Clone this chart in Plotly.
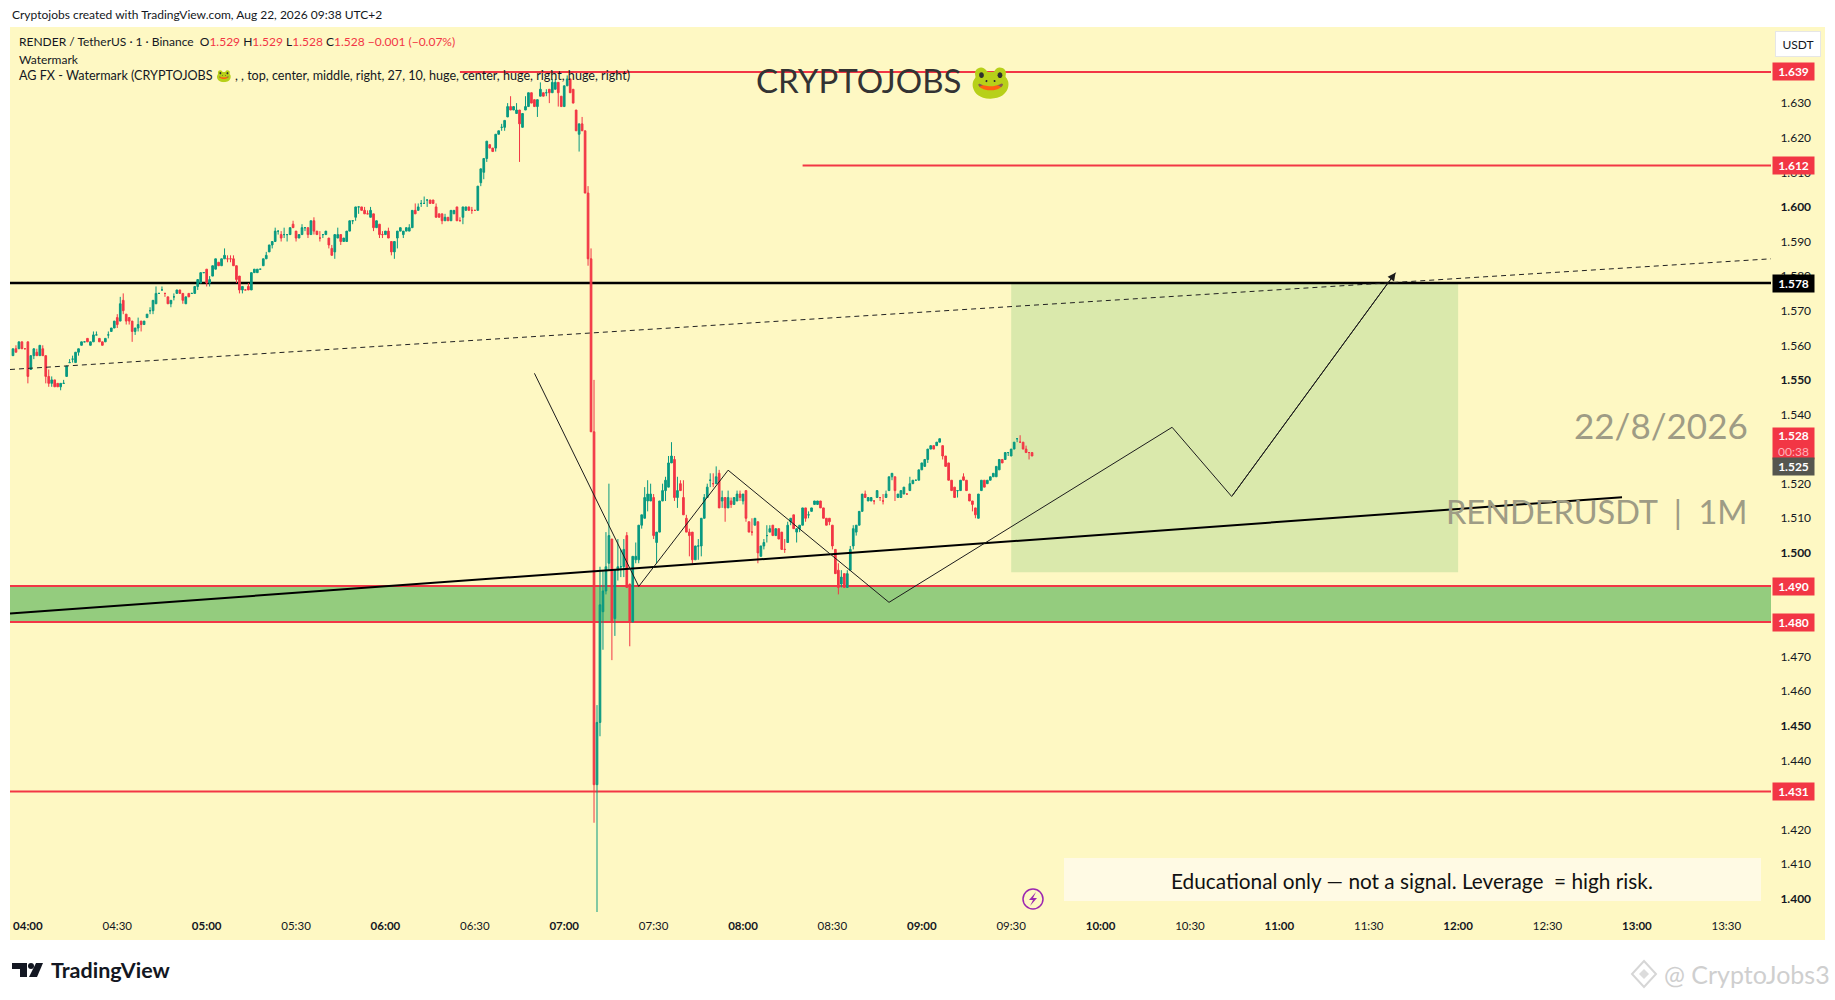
import pandas as pd
import plotly.graph_objects as go

# 1 minute candles, in 1/1000 USDT
first_bar = "2026-08-22 03:55"
opens = [
    1557,1559,1559,1561,1559,1561,1553,1557,1558,1557, 1559,1557,1551,1549,1550,1549,1548,1549,1551,1555,
    1556,1555,1558,1560,1561,1562,1560,1561,1563,1562, 1561,1561,1563,1564,1565,1568,1567,1573,1569,1568,
    1567,1564,1565,1567,1566,1568,1570,1570,1572,1575, 1576,1575,1574,1572,1574,1575,1576,1575,1572,1575,
    1575,1575,1577,1578,1581,1582,1578,1580,1582,1584, 1583,1585,1585,1585,1585,1583,1580,1576,1576,1577,
    1576,1581,1581,1582,1583,1585,1587,1589,1590,1593, 1592,1592,1592,1592,1595,1593,1591,1592,1594,1594,
    1592,1596,1593,1591,1592,1592,1591,1588,1587,1591, 1592,1590,1590,1593,1596,1597,1600,1600,1599,1598,
    1597,1598,1594,1595,1592,1592,1593,1590,1587,1591, 1593,1592,1593,1593,1594,1599,1599,1601,1601,1602,
    1602,1602,1600,1598,1598,1596,1597,1596,1598,1600, 1596,1597,1599,1600,1599,1599,1599,1607,1610,1614,
    1618,1617,1617,1621,1623,1623,1626,1629,1628,1627, 1628,1623,1628,1629,1633,1631,1629,1632,1633,1633,
    1634,1633,1634,1636,1632,1629,1635,1637,1634,1628, 1621,1624,1622,1604,1585,1535,1433,1451,1483,1489,
    1497,1504,1481,1495,1496,1496,1505,1491,1480,1498, 1498,1508,1510,1515,1515,1516,1503,1506,1515,1518,
    1519,1526,1527,1516,1520,1516,1510,1506,1506,1498, 1502,1502,1510,1516,1521,1520,1520,1523,1515,1516,
    1513,1515,1514,1515,1517,1515,1518,1509,1506,1508, 1509,1499,1502,1505,1506,1508,1505,1507,1506,1501,
    1503,1509,1511,1506,1507,1508,1513,1511,1512,1514, 1514,1515,1513,1510,1510,1508,1501,1495,1491,1494,
    1490,1495,1502,1506,1508,1512,1517,1515,1515,1515, 1516,1516,1515,1516,1518,1522,1522,1516,1516,1517,
    1517,1518,1520,1521,1521,1524,1525,1527,1530,1531, 1531,1532,1531,1528,1526,1521,1519,1518,1518,1522,
    1521,1517,1515,1513,1510,1518,1521,1520,1521,1522, 1522,1524,1527,1527,1529,1528,1530,1533,1532,1532,
    1530,1529,1529]
highs = [
    1559,1560,1561,1561,1559,1561,1557,1559,1559,1560, 1560,1557,1553,1551,1550,1549,1549,1550,1554,1556,
    1557,1558,1559,1561,1561,1562,1561,1564,1564,1562, 1561,1562,1564,1565,1567,1569,1574,1575,1569,1568,
    1567,1565,1568,1567,1567,1569,1571,1573,1577,1575, 1577,1575,1574,1573,1575,1576,1576,1575,1574,1575,
    1575,1577,1579,1581,1581,1582,1580,1583,1585,1584, 1585,1588,1586,1586,1586,1583,1580,1577,1576,1578,
    1581,1582,1582,1582,1585,1587,1589,1590,1594,1593, 1593,1594,1592,1594,1596,1593,1592,1595,1594,1594,
    1596,1597,1593,1593,1592,1593,1591,1589,1592,1594, 1592,1591,1593,1596,1596,1600,1600,1600,1600,1599,
    1600,1598,1596,1595,1593,1593,1594,1590,1590,1593, 1594,1593,1594,1595,1599,1601,1601,1602,1603,1602,
    1602,1602,1601,1598,1598,1598,1597,1599,1599,1600, 1597,1600,1600,1600,1600,1599,1606,1611,1614,1619,
    1618,1617,1621,1622,1624,1625,1630,1632,1629,1630, 1628,1627,1632,1633,1633,1631,1631,1636,1633,1634,
    1634,1637,1637,1636,1632,1635,1638,1637,1634,1628, 1624,1626,1622,1606,1588,1550,1456,1496,1495,1506,
    1520,1504,1495,1504,1501,1504,1506,1491,1499,1503, 1508,1511,1519,1521,1520,1517,1506,1515,1520,1522,
    1528,1532,1528,1522,1521,1521,1511,1507,1506,1502, 1504,1510,1517,1520,1523,1523,1525,1524,1518,1516,
    1518,1516,1516,1518,1518,1517,1518,1509,1510,1510, 1509,1502,1504,1508,1508,1508,1507,1507,1506,1504,
    1509,1510,1511,1507,1508,1513,1513,1512,1513,1515, 1515,1515,1513,1510,1510,1508,1501,1497,1495,1494,
    1495,1502,1508,1508,1512,1517,1518,1516,1516,1515, 1518,1516,1517,1518,1522,1523,1522,1517,1518,1519,
    1517,1522,1521,1521,1524,1526,1527,1530,1531,1531, 1532,1533,1531,1528,1526,1521,1519,1518,1521,1523,
    1521,1517,1515,1513,1517,1521,1521,1521,1522,1523, 1525,1527,1527,1529,1529,1530,1532,1533,1534,1532,
    1531,1529,1529]
lows = [
    1557,1558,1559,1559,1559,1549,1553,1556,1557,1557, 1557,1549,1548,1548,1548,1548,1547,1549,1551,1555,
    1555,1555,1557,1560,1561,1561,1560,1561,1563,1561, 1560,1561,1562,1564,1565,1565,1567,1569,1566,1566,
    1561,1563,1564,1564,1566,1568,1569,1569,1572,1575, 1576,1574,1572,1571,1573,1575,1575,1572,1572,1574,
    1575,1575,1576,1578,1581,1577,1577,1580,1582,1583, 1583,1585,1584,1584,1583,1578,1575,1575,1576,1576,
    1576,1581,1581,1582,1583,1585,1587,1588,1590,1592, 1590,1591,1590,1592,1594,1590,1591,1592,1593,1591,
    1592,1592,1592,1590,1591,1592,1588,1586,1585,1591, 1589,1590,1590,1593,1595,1596,1598,1599,1598,1598,
    1597,1593,1594,1591,1591,1592,1591,1586,1585,1588, 1593,1591,1593,1593,1594,1598,1599,1600,1601,1600,
    1601,1601,1597,1597,1595,1596,1596,1596,1598,1596, 1596,1595,1599,1599,1598,1599,1599,1606,1608,1613,
    1617,1616,1616,1621,1622,1622,1626,1628,1628,1627, 1613,1623,1628,1629,1630,1629,1626,1632,1632,1632,
    1630,1633,1634,1629,1629,1629,1635,1633,1630,1622, 1616,1622,1604,1583,1535,1422,1396,1447,1472,1488,
    1495,1469,1476,1492,1493,1493,1490,1473,1480,1497, 1497,1507,1510,1512,1515,1504,1497,1506,1515,1515,
    1519,1526,1515,1513,1518,1511,1506,1499,1497,1498, 1498,1499,1510,1516,1519,1519,1520,1513,1513,1509,
    1513,1513,1514,1515,1515,1514,1509,1506,1505,1508, 1497,1499,1501,1503,1506,1505,1505,1504,1501,1500,
    1503,1508,1507,1503,1506,1508,1509,1510,1512,1514, 1514,1513,1510,1508,1508,1501,1494,1488,1490,1490,
    1490,1495,1501,1505,1508,1512,1516,1515,1515,1514, 1516,1515,1514,1516,1518,1521,1515,1516,1516,1517,
    1517,1518,1520,1521,1521,1524,1525,1526,1530,1530, 1531,1532,1527,1525,1521,1518,1516,1516,1518,1521,
    1518,1515,1512,1510,1510,1518,1519,1520,1521,1522, 1522,1524,1526,1527,1528,1528,1530,1532,1532,1530,
    1529,1527,1528]
closes = [
    1559,1558,1561,1559,1559,1551,1557,1559,1557,1560, 1557,1551,1549,1550,1548,1548,1549,1549,1554,1555,
    1556,1558,1559,1561,1561,1561,1561,1563,1563,1561, 1560,1562,1563,1565,1567,1566,1572,1570,1567,1567,
    1564,1565,1566,1566,1567,1569,1570,1573,1575,1575, 1576,1575,1572,1573,1574,1576,1575,1573,1574,1574,
    1575,1577,1579,1581,1581,1578,1579,1583,1585,1583, 1585,1586,1585,1585,1583,1579,1576,1577,1576,1576,
    1581,1582,1582,1582,1585,1586,1589,1590,1593,1593, 1591,1592,1592,1594,1594,1591,1592,1594,1594,1592,
    1596,1593,1592,1591,1592,1593,1589,1586,1592,1592, 1590,1591,1593,1596,1596,1600,1600,1599,1598,1598,
    1599,1594,1596,1592,1592,1593,1591,1587,1590,1593, 1594,1593,1594,1594,1599,1598,1600,1601,1601,1602,
    1601,1601,1597,1597,1596,1597,1596,1599,1599,1596, 1596,1600,1600,1599,1599,1599,1606,1611,1614,1619,
    1617,1616,1621,1622,1623,1625,1629,1628,1629,1628, 1624,1627,1629,1633,1630,1629,1631,1634,1632,1633,
    1633,1636,1636,1633,1629,1635,1637,1633,1630,1622, 1624,1622,1604,1585,1535,1433,1451,1485,1489,1496,
    1505,1480,1495,1496,1496,1501,1490,1480,1499,1499, 1508,1511,1516,1517,1517,1505,1506,1515,1518,1521,
    1526,1528,1516,1518,1518,1511,1506,1505,1498,1502, 1502,1510,1516,1519,1521,1520,1522,1513,1516,1513,
    1516,1514,1516,1517,1516,1517,1510,1506,1506,1510, 1500,1502,1503,1505,1507,1505,1507,1504,1501,1501,
    1508,1510,1507,1507,1508,1513,1510,1511,1513,1515, 1515,1513,1510,1508,1509,1502,1494,1490,1493,1490,
    1494,1501,1507,1508,1512,1517,1516,1516,1516,1515, 1518,1516,1515,1517,1522,1523,1518,1517,1518,1519,
    1517,1520,1521,1521,1524,1526,1527,1530,1531,1530, 1532,1533,1528,1525,1521,1518,1516,1518,1521,1521,
    1518,1515,1514,1511,1517,1521,1519,1521,1522,1523, 1525,1527,1526,1529,1529,1530,1532,1533,1532,1530,
    1529,1529,1528]

# horizontal levels and drawings
level_price = [1.639, 1.612, 1.578, 1.4904, 1.480, 1.431]
level_label = ["1.639", "1.612", "1.578", "1.490", "1.480", "1.431"]
level_start = ["2026-08-22 06:25", "2026-08-22 08:20", "2026-08-22 03:54",
               "2026-08-22 03:54", "2026-08-22 03:54", "2026-08-22 03:54"]
level_color = ["#F23645", "#F23645", "#000000", "#F23645", "#F23645", "#F23645"]
level_width = [2, 2, 2.5, 2, 2, 2]

trend_t = ["2026-08-22 03:54", "2026-08-22 12:55"]
trend_p = [1.4825, 1.5161]
dash_t = ["2026-08-22 03:54", "2026-08-22 13:45"]
dash_p = [1.5530, 1.5850]
path_t = ["2026-08-22 06:50", "2026-08-22 07:25", "2026-08-22 07:55", "2026-08-22 08:49",
          "2026-08-22 10:24", "2026-08-22 10:44", "2026-08-22 11:39"]
path_p = [1.5519, 1.4903, 1.5239, 1.4857, 1.5363, 1.5163, 1.5810]
box_t = ["2026-08-22 09:30", "2026-08-22 12:00"]
box_p = [1.4944, 1.5780]

y_ticks = [1.40, 1.41, 1.42, 1.44, 1.45, 1.46, 1.47, 1.50, 1.51, 1.52,
           1.54, 1.55, 1.56, 1.57, 1.58, 1.59, 1.60, 1.61, 1.62, 1.63, 1.64]
y_labels = ["<b>1.400</b>", "1.410", "1.420", "1.440", "<b>1.450</b>", "1.460", "1.470",
            "<b>1.500</b>", "1.510", "1.520", "1.540", "<b>1.550</b>",
            "1.560", "1.570", "1.580", "1.590", "<b>1.600</b>", "1.610", "1.620", "1.630", "1.640"]
x_labels = ["<b>04:00</b>", "04:30", "<b>05:00</b>", "05:30", "<b>06:00</b>", "06:30", "<b>07:00</b>",
            "07:30", "<b>08:00</b>", "08:30", "<b>09:00</b>", "09:30", "<b>10:00</b>", "10:30",
            "<b>11:00</b>", "11:30", "<b>12:00</b>", "12:30", "<b>13:00</b>", "13:30"]
x_ticks = ["2026-08-22 " + s.replace("<b>", "").replace("</b>", "") for s in x_labels]

FONT = "Lato, Noto Sans, sans-serif"
RED = "#F23645"
GREEN = "#089981"
PANEL = "#FEF8C3"
W, H = 1835, 1000
L, R, T, B = 10, 1771, 27, 912


def px(x):
    return (x - L) / (R - L)


def py(y):
    return (B - y) / (B - T)


times = pd.date_range(first_bar, periods=len(opens), freq="min")

fig = go.Figure()
fig.add_trace(go.Candlestick(
    x=times,
    open=[v / 1000 for v in opens], high=[v / 1000 for v in highs],
    low=[v / 1000 for v in lows], close=[v / 1000 for v in closes],
    increasing=dict(line=dict(color=GREEN, width=1), fillcolor=GREEN),
    decreasing=dict(line=dict(color=RED, width=1), fillcolor=RED),
    whiskerwidth=0, showlegend=False, hoverinfo="skip"))

fig.add_trace(go.Scatter(x=dash_t, y=dash_p, mode="lines", showlegend=False,
                         line=dict(color="#222222", width=1, dash="5px,4px")))
fig.add_trace(go.Scatter(x=trend_t, y=trend_p, mode="lines", showlegend=False,
                         line=dict(color="#000000", width=2)))
fig.add_trace(go.Scatter(x=path_t, y=path_p, mode="lines", showlegend=False,
                         line=dict(color="#1c1c1c", width=1)))

shapes = [
    # panel behind the chart and both axes
    dict(type="rect", xref="paper", yref="paper", x0=px(10), x1=px(1825), y0=py(940), y1=py(27),
         fillcolor=PANEL, line=dict(width=0), layer="below"),
    dict(type="rect", xref="x", yref="y", x0=box_t[0], x1=box_t[1], y0=box_p[0], y1=box_p[1],
         fillcolor="rgba(76,175,80,0.2)", line=dict(width=0), layer="below"),
    # notice box
    dict(type="rect", xref="paper", yref="paper", x0=px(1064), x1=px(1761), y0=py(901), y1=py(858),
         fillcolor="#FFFAE4", line=dict(width=0), layer="below"),
]
for i, price in enumerate(level_price):
    shapes.append(dict(type="line", xref="x", yref="y", x0=level_start[i], x1="2026-08-22 13:45",
                       y0=price, y1=price, line=dict(color=level_color[i], width=level_width[i]),
                       layer="below"))
# the zone covers its upper border line, as it does on the chart
shapes.append(dict(type="rect", xref="paper", yref="y", x0=0, x1=1, y0=level_price[4], y1=level_price[3] + 0.0003,
                   fillcolor="rgba(76,175,80,0.6)", line=dict(width=0), layer="below"))

# lightning badge
shapes.append(dict(type="circle", xref="paper", yref="paper", x0=px(1023), x1=px(1043), y0=py(909), y1=py(889),
                   line=dict(color="#9C27B0", width=1.5), fillcolor=PANEL))
shapes.append(dict(type="path", xref="paper", yref="paper", fillcolor="#9C27B0", line=dict(width=0),
                   path=f"M {px(1036)} {py(892)} L {px(1029)} {py(900)} L {px(1033)} {py(900)} "
                        f"L {px(1030)} {py(906)} L {px(1037)} {py(898)} L {px(1033)} {py(898)} Z"))
# TradingView mark
shapes.append(dict(type="path", xref="paper", yref="paper", fillcolor="#131722", line=dict(width=0),
                   path=f"M {px(12)} {py(963)} L {px(27)} {py(963)} L {px(27)} {py(977)} L {px(20)} {py(977)} "
                        f"L {px(20)} {py(969)} L {px(12)} {py(969)} Z"))
shapes.append(dict(type="circle", xref="paper", yref="paper", x0=px(28), x1=px(34), y0=py(969), y1=py(963),
                   fillcolor="#131722", line=dict(width=0)))
shapes.append(dict(type="path", xref="paper", yref="paper", fillcolor="#131722", line=dict(width=0),
                   path=f"M {px(36)} {py(963)} L {px(43)} {py(963)} L {px(37)} {py(977)} L {px(29)} {py(977)} Z"))
# watermark diamond
shapes.append(dict(type="path", xref="paper", yref="paper", fillcolor="rgba(0,0,0,0)",
                   line=dict(color="#d6d6d6", width=2),
                   path=f"M {px(1644)} {py(961)} L {px(1656)} {py(974)} L {px(1644)} {py(987)} L {px(1632)} {py(974)} Z"))
shapes.append(dict(type="path", xref="paper", yref="paper", fillcolor="#dcdcdc", line=dict(width=0),
                   path=f"M {px(1644)} {py(969)} L {px(1649)} {py(974)} L {px(1644)} {py(979)} L {px(1639)} {py(974)} Z"))


def note(x, y, text, size=12, color="#131722", anchor="left", **kw):
    fig.add_annotation(xref="paper", yref="paper", x=px(x), y=py(y), text=text, showarrow=False,
                       xanchor=anchor, yanchor="middle", align=anchor,
                       font=dict(family=FONT, size=size, color=color), **kw)


def red(s):
    return f"<span style='color:{RED}'>{s}</span>"


note(10, 15, "Cryptojobs created with TradingView.com, Aug 22, 2026 09:38 UTC+2", size=12)
note(17, 42, "RENDER / TetherUS · 1 · Binance  O" + red("1.529") + " H" + red("1.529") + " L" + red("1.528")
     + " C" + red("1.528") + " " + red("−0.001 (−0.07%)"), size=12)
note(17, 59, "Watermark", size=12)
note(17, 76, "AG FX - Watermark (CRYPTOJOBS 🐸 , , top, center, middle, right, 27, 10, huge, center, "
             "huge, right, huge, right)", size=12.6)
note(883, 80, "CRYPTOJOBS 🐸", size=33, color="#333333", anchor="center")
note(1750, 425, "22/8/2026", size=35, color="#9E9C85", anchor="right")
note(1750, 511, "RENDERUSDT  |  1M", size=32.5, color="#9E9C85", anchor="right")
note(1412, 880, "Educational only — not a signal. Leverage  = high risk.", size=20.8, color="#111111", anchor="center")
note(49, 970, "<b>TradingView</b>", size=21.5, color="#131722")
note(1662, 974, "@ CryptoJobs3", size=25, color="#cfcfcf")
note(1798, 44, "USDT", size=12, anchor="center", bgcolor="#ffffff", bordercolor="#e6e6e6", borderwidth=1,
     borderpad=3, width=38, height=18)

# price badges on the scale
for i, price in enumerate(level_price):
    fig.add_annotation(xref="paper", yref="y", x=px(1772), y=price, xanchor="left", yanchor="middle",
                       text=f"<b>{level_label[i]}</b>", showarrow=False, bgcolor=level_color[i], width=41, height=17,
                       borderpad=0, font=dict(family=FONT, size=12, color="#ffffff"))
fig.add_annotation(xref="paper", yref="y", x=px(1772), y=closes[-1] / 1000, yshift=13, xanchor="left",
                   yanchor="middle", showarrow=False, bgcolor=RED, width=41, height=31, borderpad=0,
                   text="<b>1.528</b><br><span style='color:#FFB3BA'>00:38</span>",
                   font=dict(family=FONT, size=12, color="#ffffff"))
fig.add_annotation(xref="paper", yref="y", x=px(1772), y=1.525, xanchor="left", yanchor="middle",
                   showarrow=False, bgcolor="#55564F", width=41, height=17, borderpad=0,
                   text="<b>1.525</b>", font=dict(family=FONT, size=12, color="#ffffff"))
# arrow head on the projected path
fig.add_annotation(xref="x", yref="y", axref="x", ayref="y", x=path_t[-1], y=path_p[-1],
                   ax=path_t[-2], ay=path_p[-2], text="", showarrow=True, arrowhead=2, arrowsize=1.6,
                   arrowwidth=1, arrowcolor="#1c1c1c")

fig.update_layout(
    width=W, height=H, margin=dict(l=L, r=W - R, t=T, b=H - B),
    paper_bgcolor="#ffffff", plot_bgcolor=PANEL, shapes=shapes, showlegend=False, boxgap=0.2,
    font=dict(family=FONT, size=12, color="#131722"),
    xaxis=dict(type="date", range=["2026-08-22 03:54", "2026-08-22 13:45"], rangeslider=dict(visible=False),
               showgrid=False, zeroline=False, showline=False, tickmode="array", tickvals=x_ticks,
               ticktext=x_labels, ticks="outside", ticklen=3, tickcolor="rgba(0,0,0,0)",
               tickfont=dict(family=FONT, size=11.5)),
    yaxis=dict(side="right", range=[1.3962, 1.6520], showgrid=False, zeroline=False, showline=False,
               tickmode="array", tickvals=y_ticks, ticktext=y_labels, ticks="outside", ticklen=6,
               tickcolor="rgba(0,0,0,0)", tickfont=dict(family=FONT, size=12)),
)

fig.write_html("out.html", config={"displayModeBar": False},
               post_script="document.body.style.margin='0';document.body.style.overflow='hidden';")
